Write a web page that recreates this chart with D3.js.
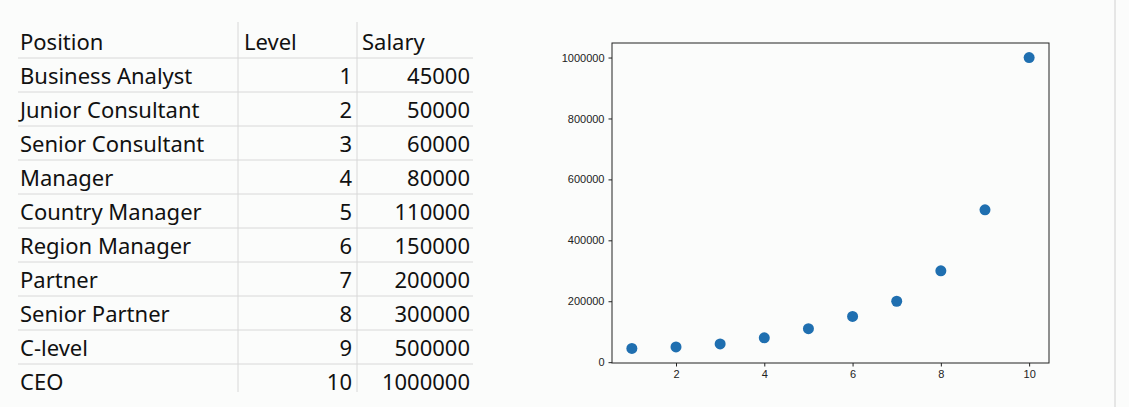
<!DOCTYPE html>
<html><head><meta charset="utf-8">
<script src="https://cdn.jsdelivr.net/npm/d3@7"></script>
<style>body{margin:0;background:#fbfcfb;overflow:hidden}</style>
</head><body><svg id="c" width="1129" height="407"></svg>
<script>
const positions = ["Business Analyst","Junior Consultant","Senior Consultant","Manager","Country Manager","Region Manager","Partner","Senior Partner","C-level","CEO"];
const levels = [1,2,3,4,5,6,7,8,9,10];
const salaries = [45000,50000,60000,80000,110000,150000,200000,300000,500000,1000000];
const headers = ["Position","Level","Salary"];
const yTicks = [0,200000,400000,600000,800000,1000000];
const xTicks = [2,4,6,8,10];

const svg = d3.select("#c");

// --- table ---
const t = svg.append("g").style("font-family", "'Noto Sans', sans-serif").style("font-size", "22px").attr("fill", "#111");
const rowY = d3.scaleLinear().domain([0, 1]).range([42, 76]); // row centers
const colSep = [238, 357];
t.selectAll(".vsep").data(colSep).enter().append("line")
  .attr("x1", d => d).attr("x2", d => d).attr("y1", 22).attr("y2", 392)
  .attr("stroke", "#d8d8d8");
t.selectAll(".hsep").data(d3.range(10)).enter().append("line")
  .attr("x1", 18).attr("x2", 473)
  .attr("y1", i => rowY(i) + 16).attr("y2", i => rowY(i) + 16)
  .attr("stroke", "#d8d8d8");
t.append("text").attr("x", 20).attr("y", rowY(0)).attr("dy", "0.35em").text(headers[0]);
t.append("text").attr("x", 244).attr("y", rowY(0)).attr("dy", "0.35em").text(headers[1]);
t.append("text").attr("x", 362).attr("y", rowY(0)).attr("dy", "0.35em").text(headers[2]);
positions.forEach((p, i) => {
  const yy = rowY(i + 1);
  t.append("text").attr("x", 20).attr("y", yy).attr("dy", "0.35em").text(p);
  t.append("text").attr("x", 352).attr("y", yy).attr("dy", "0.35em").attr("text-anchor", "end").text(levels[i]);
  t.append("text").attr("x", 470).attr("y", yy).attr("dy", "0.35em").attr("text-anchor", "end").text(salaries[i]);
});

// --- scatter ---
const pLeft = 612, pRight = 1049, pTop = 43, pBottom = 363;
const x = d3.scaleLinear().domain([0.55, 10.45]).range([pLeft, pRight]);
const y = d3.scaleLinear().domain([-2750, 1047750]).range([pBottom, pTop]);
const ax = svg.append("g").style("font-family", "'DejaVu Sans', sans-serif");
ax.append("g").attr("transform", `translate(0,${pBottom})`)
  .call(d3.axisBottom(x).tickValues(xTicks).tickSize(3.5).tickPadding(4))
  .call(g => g.select(".domain").remove());
ax.append("g").attr("transform", `translate(${pLeft},0)`)
  .call(d3.axisLeft(y).tickValues(yTicks).tickSize(3.5).tickPadding(4).tickFormat(d3.format("d")))
  .call(g => g.select(".domain").remove());
ax.selectAll("text").style("font-size", "11px").attr("fill", "#222");
ax.selectAll(".tick line").attr("stroke", "#222");
svg.append("rect").attr("x", pLeft).attr("y", pTop).attr("width", pRight - pLeft).attr("height", pBottom - pTop)
  .attr("fill", "none").attr("stroke", "#222").attr("stroke-width", 1);
svg.append("g").selectAll("circle").data(levels).enter().append("circle")
  .attr("cx", (d) => x(d)).attr("cy", (d, i) => y(salaries[i])).attr("r", 5.5)
  .attr("fill", "#1f6fb0");

svg.append("line").attr("x1", 1115).attr("x2", 1115).attr("y1", 0).attr("y2", 407).attr("stroke", "#d0d0d0");
</script></body></html>
